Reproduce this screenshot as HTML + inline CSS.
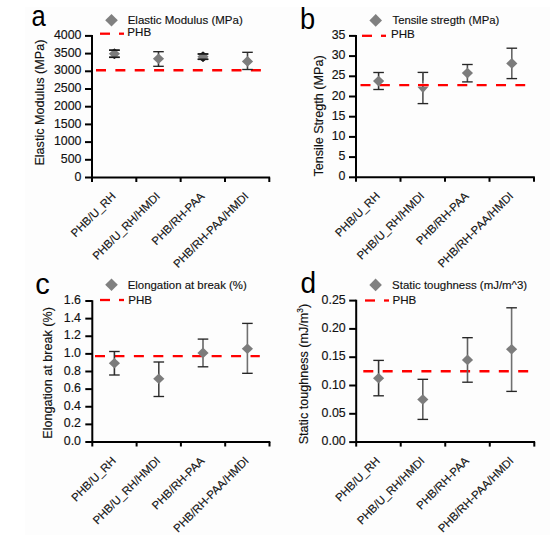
<!DOCTYPE html><html><head><meta charset="utf-8"><style>html,body{margin:0;padding:0;background:#fff;}svg{display:block;font-family:"Liberation Sans",sans-serif;} text{stroke:#111;stroke-width:0.15px;}</style></head><body>
<svg width="550" height="538" viewBox="0 0 550 538">
<rect x="0" y="0" width="550" height="538" fill="#ffffff"/>
<rect x="25" y="7" width="525" height="528" fill="#fdfdfd"/>
<text transform="translate(31.5,26.2) scale(0.88,1)" font-size="29" fill="#000" style="stroke:none">a</text>
<path d="M92.0,35.1 V177.5 H270.1" fill="none" stroke="#000" stroke-width="2"/>
<line x1="85.0" y1="177.50" x2="92.0" y2="177.50" stroke="#000" stroke-width="2"/>
<text x="81.5" y="180.60" font-size="12.4" text-anchor="end" fill="#111">0</text>
<line x1="85.0" y1="159.80" x2="92.0" y2="159.80" stroke="#000" stroke-width="2"/>
<text x="81.5" y="162.90" font-size="12.4" text-anchor="end" fill="#111">500</text>
<line x1="85.0" y1="142.10" x2="92.0" y2="142.10" stroke="#000" stroke-width="2"/>
<text x="81.5" y="145.20" font-size="12.4" text-anchor="end" fill="#111">1000</text>
<line x1="85.0" y1="124.40" x2="92.0" y2="124.40" stroke="#000" stroke-width="2"/>
<text x="81.5" y="127.50" font-size="12.4" text-anchor="end" fill="#111">1500</text>
<line x1="85.0" y1="106.70" x2="92.0" y2="106.70" stroke="#000" stroke-width="2"/>
<text x="81.5" y="109.80" font-size="12.4" text-anchor="end" fill="#111">2000</text>
<line x1="85.0" y1="89.00" x2="92.0" y2="89.00" stroke="#000" stroke-width="2"/>
<text x="81.5" y="92.10" font-size="12.4" text-anchor="end" fill="#111">2500</text>
<line x1="85.0" y1="71.30" x2="92.0" y2="71.30" stroke="#000" stroke-width="2"/>
<text x="81.5" y="74.40" font-size="12.4" text-anchor="end" fill="#111">3000</text>
<line x1="85.0" y1="53.60" x2="92.0" y2="53.60" stroke="#000" stroke-width="2"/>
<text x="81.5" y="56.70" font-size="12.4" text-anchor="end" fill="#111">3500</text>
<line x1="85.0" y1="35.90" x2="92.0" y2="35.90" stroke="#000" stroke-width="2"/>
<text x="81.5" y="39.00" font-size="12.4" text-anchor="end" fill="#111">4000</text>
<line x1="92.00" y1="177.5" x2="92.00" y2="182.0" stroke="#000" stroke-width="2"/>
<line x1="136.32" y1="177.5" x2="136.32" y2="182.0" stroke="#000" stroke-width="2"/>
<line x1="180.65" y1="177.5" x2="180.65" y2="182.0" stroke="#000" stroke-width="2"/>
<line x1="224.98" y1="177.5" x2="224.98" y2="182.0" stroke="#000" stroke-width="2"/>
<line x1="269.30" y1="177.5" x2="269.30" y2="182.0" stroke="#000" stroke-width="2"/>
<text transform="translate(116.36,197.00) rotate(-45)" font-size="11.4" text-anchor="end" fill="#111">PHB/U_RH</text>
<text transform="translate(160.69,197.00) rotate(-45)" font-size="11.4" text-anchor="end" fill="#111">PHB/U_RH/HMDI</text>
<text transform="translate(205.01,197.00) rotate(-45)" font-size="11.4" text-anchor="end" fill="#111">PHB/RH-PAA</text>
<text transform="translate(249.34,197.00) rotate(-45)" font-size="11.4" text-anchor="end" fill="#111">PHB/RH-PAA/HMDI</text>
<text transform="translate(44.0,102.60) rotate(-90)" font-size="12.6" text-anchor="middle" fill="#111">Elastic Modulus (MPa)</text>
<path d="M111.5,13.899999999999999 L117.8,20.2 L111.5,26.5 L105.2,20.2 Z" fill="#808080"/>
<text x="127.7" y="23.9" font-size="11.5" fill="#111">Elastic Modulus (MPa)</text>
<line x1="100" y1="33.7" x2="110" y2="33.7" stroke="#f00" stroke-width="2.3"/>
<line x1="119" y1="33.7" x2="124" y2="33.7" stroke="#f00" stroke-width="2.3"/>
<text x="127.3" y="36.3" font-size="11.6" fill="#111">PHB</text>
<line x1="96.0" y1="70.3" x2="261.0" y2="70.3" stroke="#f00" stroke-width="2.4" stroke-dasharray="10 9.36"/>
<line x1="114.4" y1="50.2" x2="114.4" y2="57.3" stroke="#222" stroke-width="1.6"/>
<line x1="109.10000000000001" y1="50.2" x2="119.7" y2="50.2" stroke="#262626" stroke-width="1.35"/>
<line x1="109.10000000000001" y1="57.3" x2="119.7" y2="57.3" stroke="#262626" stroke-width="1.35"/>
<path d="M114.4,48.400000000000006 L120.0,53.7 L114.4,59.0 L108.80000000000001,53.7 Z" fill="#7c7c7c"/>
<path d="M111.90,50.2 L116.90,50.2 L114.4,48.400000000000006 Z" fill="#1a1a1a"/>
<path d="M112.00,57.3 L116.80,57.3 L114.4,59.0 Z" fill="#1a1a1a"/>
<line x1="109.10000000000001" y1="50.2" x2="119.7" y2="50.2" stroke="#1a1a1a" stroke-width="1.6"/>
<line x1="109.10000000000001" y1="57.3" x2="119.7" y2="57.3" stroke="#1a1a1a" stroke-width="1.6"/>
<line x1="158.5" y1="51.7" x2="158.5" y2="66.3" stroke="#333" stroke-width="1.6"/>
<line x1="153.2" y1="51.7" x2="163.8" y2="51.7" stroke="#262626" stroke-width="1.35"/>
<line x1="153.2" y1="66.3" x2="163.8" y2="66.3" stroke="#262626" stroke-width="1.35"/>
<path d="M158.5,53.400000000000006 L164.1,58.7 L158.5,64.0 L152.9,58.7 Z" fill="#7c7c7c"/>
<line x1="203.0" y1="54.0" x2="203.0" y2="59.3" stroke="#222" stroke-width="1.6"/>
<line x1="197.7" y1="54.0" x2="208.3" y2="54.0" stroke="#262626" stroke-width="1.35"/>
<line x1="197.7" y1="59.3" x2="208.3" y2="59.3" stroke="#262626" stroke-width="1.35"/>
<path d="M203.0,51.400000000000006 L208.6,56.7 L203.0,62.0 L197.4,56.7 Z" fill="#7c7c7c"/>
<path d="M199.65,54.0 L206.35,54.0 L203.0,51.400000000000006 Z" fill="#1a1a1a"/>
<path d="M199.55,59.3 L206.45,59.3 L203.0,62.0 Z" fill="#1a1a1a"/>
<line x1="197.7" y1="54.0" x2="208.3" y2="54.0" stroke="#1a1a1a" stroke-width="1.6"/>
<line x1="197.7" y1="59.3" x2="208.3" y2="59.3" stroke="#1a1a1a" stroke-width="1.6"/>
<line x1="247.5" y1="52.3" x2="247.5" y2="69.5" stroke="#444" stroke-width="1.6"/>
<line x1="242.2" y1="52.3" x2="252.8" y2="52.3" stroke="#262626" stroke-width="1.35"/>
<line x1="242.2" y1="69.5" x2="252.8" y2="69.5" stroke="#262626" stroke-width="1.35"/>
<path d="M247.5,56.1 L253.1,61.4 L247.5,66.7 L241.9,61.4 Z" fill="#7c7c7c"/>
<text transform="translate(300.0,28.8) scale(0.94,1)" font-size="29" fill="#000" style="stroke:none">b</text>
<path d="M356.0,35.1 V177.3 H534.8" fill="none" stroke="#000" stroke-width="2"/>
<line x1="349.0" y1="177.30" x2="356.0" y2="177.30" stroke="#000" stroke-width="2"/>
<text x="345.5" y="180.40" font-size="12.4" text-anchor="end" fill="#111">0</text>
<line x1="349.0" y1="157.10" x2="356.0" y2="157.10" stroke="#000" stroke-width="2"/>
<text x="345.5" y="160.20" font-size="12.4" text-anchor="end" fill="#111">5</text>
<line x1="349.0" y1="136.90" x2="356.0" y2="136.90" stroke="#000" stroke-width="2"/>
<text x="345.5" y="140.00" font-size="12.4" text-anchor="end" fill="#111">10</text>
<line x1="349.0" y1="116.70" x2="356.0" y2="116.70" stroke="#000" stroke-width="2"/>
<text x="345.5" y="119.80" font-size="12.4" text-anchor="end" fill="#111">15</text>
<line x1="349.0" y1="96.50" x2="356.0" y2="96.50" stroke="#000" stroke-width="2"/>
<text x="345.5" y="99.60" font-size="12.4" text-anchor="end" fill="#111">20</text>
<line x1="349.0" y1="76.30" x2="356.0" y2="76.30" stroke="#000" stroke-width="2"/>
<text x="345.5" y="79.40" font-size="12.4" text-anchor="end" fill="#111">25</text>
<line x1="349.0" y1="56.10" x2="356.0" y2="56.10" stroke="#000" stroke-width="2"/>
<text x="345.5" y="59.20" font-size="12.4" text-anchor="end" fill="#111">30</text>
<line x1="349.0" y1="35.90" x2="356.0" y2="35.90" stroke="#000" stroke-width="2"/>
<text x="345.5" y="39.00" font-size="12.4" text-anchor="end" fill="#111">35</text>
<line x1="356.00" y1="177.3" x2="356.00" y2="181.8" stroke="#000" stroke-width="2"/>
<line x1="400.50" y1="177.3" x2="400.50" y2="181.8" stroke="#000" stroke-width="2"/>
<line x1="445.00" y1="177.3" x2="445.00" y2="181.8" stroke="#000" stroke-width="2"/>
<line x1="489.50" y1="177.3" x2="489.50" y2="181.8" stroke="#000" stroke-width="2"/>
<line x1="534.00" y1="177.3" x2="534.00" y2="181.8" stroke="#000" stroke-width="2"/>
<text transform="translate(380.45,196.80) rotate(-45)" font-size="11.4" text-anchor="end" fill="#111">PHB/U_RH</text>
<text transform="translate(424.95,196.80) rotate(-45)" font-size="11.4" text-anchor="end" fill="#111">PHB/U_RH/HMDI</text>
<text transform="translate(469.45,196.80) rotate(-45)" font-size="11.4" text-anchor="end" fill="#111">PHB/RH-PAA</text>
<text transform="translate(513.95,196.80) rotate(-45)" font-size="11.4" text-anchor="end" fill="#111">PHB/RH-PAA/HMDI</text>
<text transform="translate(322.5,115.95) rotate(-90)" font-size="12.6" text-anchor="middle" fill="#111">Tensile Stregth (MPa)</text>
<path d="M375.7,14.099999999999998 L382.0,20.4 L375.7,26.7 L369.4,20.4 Z" fill="#808080"/>
<text x="392.5" y="23.9" font-size="11.3" fill="#111">Tensile stregth (MPa)</text>
<line x1="362" y1="35.8" x2="372" y2="35.8" stroke="#f00" stroke-width="2.3"/>
<line x1="381" y1="35.8" x2="386" y2="35.8" stroke="#f00" stroke-width="2.3"/>
<text x="391.0" y="38.2" font-size="11.6" fill="#111">PHB</text>
<line x1="360.5" y1="85.1" x2="525.2" y2="85.1" stroke="#f00" stroke-width="2.4" stroke-dasharray="10 9.36"/>
<line x1="378.6" y1="72.5" x2="378.6" y2="89.5" stroke="#333" stroke-width="1.6"/>
<line x1="373.3" y1="72.5" x2="383.90000000000003" y2="72.5" stroke="#262626" stroke-width="1.35"/>
<line x1="373.3" y1="89.5" x2="383.90000000000003" y2="89.5" stroke="#262626" stroke-width="1.35"/>
<path d="M378.6,75.8 L384.20000000000005,81.1 L378.6,86.39999999999999 L373.0,81.1 Z" fill="#7c7c7c"/>
<line x1="422.9" y1="72.4" x2="422.9" y2="103.6" stroke="#555" stroke-width="1.6"/>
<line x1="417.59999999999997" y1="72.4" x2="428.2" y2="72.4" stroke="#262626" stroke-width="1.35"/>
<line x1="417.59999999999997" y1="103.6" x2="428.2" y2="103.6" stroke="#262626" stroke-width="1.35"/>
<path d="M417.4,86.8 L428.4,86.8 L422.9,92.9 Z" fill="#7c7c7c"/>
<rect x="417.4" y="80.5" width="11" height="3.6" fill="#fdfdfd"/>
<line x1="422.9" y1="72.4" x2="422.9" y2="83.4" stroke="#555" stroke-width="1.6"/>
<line x1="418.0" y1="85.05" x2="428.4" y2="85.05" stroke="#f00" stroke-width="2.2"/>
<line x1="467.4" y1="64.5" x2="467.4" y2="81.9" stroke="#555" stroke-width="1.6"/>
<line x1="462.09999999999997" y1="64.5" x2="472.7" y2="64.5" stroke="#262626" stroke-width="1.35"/>
<line x1="462.09999999999997" y1="81.9" x2="472.7" y2="81.9" stroke="#262626" stroke-width="1.35"/>
<path d="M467.4,67.8 L473.0,73.1 L467.4,78.39999999999999 L461.79999999999995,73.1 Z" fill="#7c7c7c"/>
<line x1="511.8" y1="48.2" x2="511.8" y2="78.6" stroke="#666" stroke-width="1.6"/>
<line x1="506.5" y1="48.2" x2="517.1" y2="48.2" stroke="#262626" stroke-width="1.35"/>
<line x1="506.5" y1="78.6" x2="517.1" y2="78.6" stroke="#262626" stroke-width="1.35"/>
<path d="M511.8,58.1 L517.4,63.4 L511.8,68.7 L506.2,63.4 Z" fill="#7c7c7c"/>
<text transform="translate(35.3,294.2) scale(1.0,1)" font-size="29" fill="#000" style="stroke:none">c</text>
<path d="M92.3,300.2 V442.0 H270.3" fill="none" stroke="#000" stroke-width="2"/>
<line x1="85.3" y1="442.00" x2="92.3" y2="442.00" stroke="#000" stroke-width="2"/>
<text x="81.0" y="445.10" font-size="12.4" text-anchor="end" fill="#111">0.0</text>
<line x1="85.3" y1="424.38" x2="92.3" y2="424.38" stroke="#000" stroke-width="2"/>
<text x="81.0" y="427.48" font-size="12.4" text-anchor="end" fill="#111">0.2</text>
<line x1="85.3" y1="406.75" x2="92.3" y2="406.75" stroke="#000" stroke-width="2"/>
<text x="81.0" y="409.85" font-size="12.4" text-anchor="end" fill="#111">0.4</text>
<line x1="85.3" y1="389.12" x2="92.3" y2="389.12" stroke="#000" stroke-width="2"/>
<text x="81.0" y="392.23" font-size="12.4" text-anchor="end" fill="#111">0.6</text>
<line x1="85.3" y1="371.50" x2="92.3" y2="371.50" stroke="#000" stroke-width="2"/>
<text x="81.0" y="374.60" font-size="12.4" text-anchor="end" fill="#111">0.8</text>
<line x1="85.3" y1="353.88" x2="92.3" y2="353.88" stroke="#000" stroke-width="2"/>
<text x="81.0" y="356.98" font-size="12.4" text-anchor="end" fill="#111">1.0</text>
<line x1="85.3" y1="336.25" x2="92.3" y2="336.25" stroke="#000" stroke-width="2"/>
<text x="81.0" y="339.35" font-size="12.4" text-anchor="end" fill="#111">1.2</text>
<line x1="85.3" y1="318.62" x2="92.3" y2="318.62" stroke="#000" stroke-width="2"/>
<text x="81.0" y="321.73" font-size="12.4" text-anchor="end" fill="#111">1.4</text>
<line x1="85.3" y1="301.00" x2="92.3" y2="301.00" stroke="#000" stroke-width="2"/>
<text x="81.0" y="304.10" font-size="12.4" text-anchor="end" fill="#111">1.6</text>
<line x1="92.30" y1="442.0" x2="92.30" y2="446.5" stroke="#000" stroke-width="2"/>
<line x1="136.60" y1="442.0" x2="136.60" y2="446.5" stroke="#000" stroke-width="2"/>
<line x1="180.90" y1="442.0" x2="180.90" y2="446.5" stroke="#000" stroke-width="2"/>
<line x1="225.20" y1="442.0" x2="225.20" y2="446.5" stroke="#000" stroke-width="2"/>
<line x1="269.50" y1="442.0" x2="269.50" y2="446.5" stroke="#000" stroke-width="2"/>
<text transform="translate(116.65,461.50) rotate(-45)" font-size="11.4" text-anchor="end" fill="#111">PHB/U_RH</text>
<text transform="translate(160.95,461.50) rotate(-45)" font-size="11.4" text-anchor="end" fill="#111">PHB/U_RH/HMDI</text>
<text transform="translate(205.25,461.50) rotate(-45)" font-size="11.4" text-anchor="end" fill="#111">PHB/RH-PAA</text>
<text transform="translate(249.55,461.50) rotate(-45)" font-size="11.4" text-anchor="end" fill="#111">PHB/RH-PAA/HMDI</text>
<text transform="translate(52.0,372.95) rotate(-90)" font-size="12.6" text-anchor="middle" fill="#111">Elongation at break (%)</text>
<path d="M111.5,278.5 L117.8,284.8 L111.5,291.1 L105.2,284.8 Z" fill="#808080"/>
<text x="127.7" y="288.8" font-size="11.4" fill="#111">Elongation at break (%)</text>
<line x1="100" y1="300.0" x2="110" y2="300.0" stroke="#f00" stroke-width="2.3"/>
<line x1="119" y1="300.0" x2="124" y2="300.0" stroke="#f00" stroke-width="2.3"/>
<text x="128.2" y="304.1" font-size="11.6" fill="#111">PHB</text>
<line x1="95.0" y1="356.1" x2="259.8" y2="356.1" stroke="#f00" stroke-width="2.4" stroke-dasharray="10 9.44"/>
<line x1="114.4" y1="351.5" x2="114.4" y2="375.0" stroke="#333" stroke-width="1.6"/>
<line x1="109.10000000000001" y1="351.5" x2="119.7" y2="351.5" stroke="#262626" stroke-width="1.35"/>
<line x1="109.10000000000001" y1="375.0" x2="119.7" y2="375.0" stroke="#262626" stroke-width="1.35"/>
<path d="M114.4,358.0 L120.0,363.3 L114.4,368.6 L108.80000000000001,363.3 Z" fill="#7c7c7c"/>
<line x1="158.8" y1="362.0" x2="158.8" y2="396.5" stroke="#444" stroke-width="1.6"/>
<line x1="153.5" y1="362.0" x2="164.10000000000002" y2="362.0" stroke="#262626" stroke-width="1.35"/>
<line x1="153.5" y1="396.5" x2="164.10000000000002" y2="396.5" stroke="#262626" stroke-width="1.35"/>
<path d="M158.8,373.5 L164.4,378.8 L158.8,384.1 L153.20000000000002,378.8 Z" fill="#7c7c7c"/>
<line x1="203.0" y1="339.1" x2="203.0" y2="366.8" stroke="#666" stroke-width="1.6"/>
<line x1="197.7" y1="339.1" x2="208.3" y2="339.1" stroke="#262626" stroke-width="1.35"/>
<line x1="197.7" y1="366.8" x2="208.3" y2="366.8" stroke="#262626" stroke-width="1.35"/>
<path d="M203.0,347.59999999999997 L208.6,352.9 L203.0,358.2 L197.4,352.9 Z" fill="#7c7c7c"/>
<line x1="247.4" y1="323.4" x2="247.4" y2="373.3" stroke="#707070" stroke-width="1.6"/>
<line x1="242.1" y1="323.4" x2="252.70000000000002" y2="323.4" stroke="#262626" stroke-width="1.35"/>
<line x1="242.1" y1="373.3" x2="252.70000000000002" y2="373.3" stroke="#262626" stroke-width="1.35"/>
<path d="M247.4,343.5 L253.0,348.8 L247.4,354.1 L241.8,348.8 Z" fill="#7c7c7c"/>
<text transform="translate(300.5,293.3) scale(0.97,1)" font-size="29" fill="#000" style="stroke:none">d</text>
<path d="M356.2,299.8 V442.1 H535.0999999999999" fill="none" stroke="#000" stroke-width="2"/>
<line x1="349.2" y1="442.10" x2="356.2" y2="442.10" stroke="#000" stroke-width="2"/>
<text x="345.7" y="445.20" font-size="12.4" text-anchor="end" fill="#111">0.00</text>
<line x1="349.2" y1="413.80" x2="356.2" y2="413.80" stroke="#000" stroke-width="2"/>
<text x="345.7" y="416.90" font-size="12.4" text-anchor="end" fill="#111">0.05</text>
<line x1="349.2" y1="385.50" x2="356.2" y2="385.50" stroke="#000" stroke-width="2"/>
<text x="345.7" y="388.60" font-size="12.4" text-anchor="end" fill="#111">0.10</text>
<line x1="349.2" y1="357.20" x2="356.2" y2="357.20" stroke="#000" stroke-width="2"/>
<text x="345.7" y="360.30" font-size="12.4" text-anchor="end" fill="#111">0.15</text>
<line x1="349.2" y1="328.90" x2="356.2" y2="328.90" stroke="#000" stroke-width="2"/>
<text x="345.7" y="332.00" font-size="12.4" text-anchor="end" fill="#111">0.20</text>
<line x1="349.2" y1="300.60" x2="356.2" y2="300.60" stroke="#000" stroke-width="2"/>
<text x="345.7" y="303.70" font-size="12.4" text-anchor="end" fill="#111">0.25</text>
<line x1="356.20" y1="442.1" x2="356.20" y2="446.6" stroke="#000" stroke-width="2"/>
<line x1="400.72" y1="442.1" x2="400.72" y2="446.6" stroke="#000" stroke-width="2"/>
<line x1="445.25" y1="442.1" x2="445.25" y2="446.6" stroke="#000" stroke-width="2"/>
<line x1="489.77" y1="442.1" x2="489.77" y2="446.6" stroke="#000" stroke-width="2"/>
<line x1="534.30" y1="442.1" x2="534.30" y2="446.6" stroke="#000" stroke-width="2"/>
<text transform="translate(380.66,461.60) rotate(-45)" font-size="11.4" text-anchor="end" fill="#111">PHB/U_RH</text>
<text transform="translate(425.19,461.60) rotate(-45)" font-size="11.4" text-anchor="end" fill="#111">PHB/U_RH/HMDI</text>
<text transform="translate(469.71,461.60) rotate(-45)" font-size="11.4" text-anchor="end" fill="#111">PHB/RH-PAA</text>
<text transform="translate(514.24,461.60) rotate(-45)" font-size="11.4" text-anchor="end" fill="#111">PHB/RH-PAA/HMDI</text>
<text transform="translate(308.2,374.10) rotate(-90)" font-size="12.6" text-anchor="middle" fill="#111">Static toughness (mJ/m<tspan dy="-5.2" font-size="8.3">3</tspan><tspan dy="5.2">)</tspan></text>
<path d="M375.6,278.59999999999997 L381.90000000000003,284.9 L375.6,291.2 L369.3,284.9 Z" fill="#808080"/>
<text x="392.1" y="288.9" font-size="11.45" fill="#111">Static toughness (mJ/m^3)</text>
<line x1="365" y1="300.5" x2="375" y2="300.5" stroke="#f00" stroke-width="2.3"/>
<line x1="384" y1="300.5" x2="389" y2="300.5" stroke="#f00" stroke-width="2.3"/>
<text x="392.5" y="304.2" font-size="11.6" fill="#111">PHB</text>
<line x1="363.3" y1="371.2" x2="528.3" y2="371.2" stroke="#f00" stroke-width="2.4" stroke-dasharray="10 9.36"/>
<line x1="378.6" y1="360.4" x2="378.6" y2="395.8" stroke="#333" stroke-width="1.6"/>
<line x1="373.3" y1="360.4" x2="383.90000000000003" y2="360.4" stroke="#262626" stroke-width="1.35"/>
<line x1="373.3" y1="395.8" x2="383.90000000000003" y2="395.8" stroke="#262626" stroke-width="1.35"/>
<path d="M378.6,372.9 L384.20000000000005,378.2 L378.6,383.5 L373.0,378.2 Z" fill="#7c7c7c"/>
<line x1="422.8" y1="379.3" x2="422.8" y2="419.4" stroke="#606060" stroke-width="1.6"/>
<line x1="417.5" y1="379.3" x2="428.1" y2="379.3" stroke="#262626" stroke-width="1.35"/>
<line x1="417.5" y1="419.4" x2="428.1" y2="419.4" stroke="#262626" stroke-width="1.35"/>
<path d="M422.8,394.2 L428.40000000000003,399.5 L422.8,404.8 L417.2,399.5 Z" fill="#7c7c7c"/>
<line x1="467.5" y1="337.7" x2="467.5" y2="382.2" stroke="#606060" stroke-width="1.6"/>
<line x1="462.2" y1="337.7" x2="472.8" y2="337.7" stroke="#262626" stroke-width="1.35"/>
<line x1="462.2" y1="382.2" x2="472.8" y2="382.2" stroke="#262626" stroke-width="1.35"/>
<path d="M467.5,354.59999999999997 L473.1,359.9 L467.5,365.2 L461.9,359.9 Z" fill="#7c7c7c"/>
<line x1="511.6" y1="307.8" x2="511.6" y2="391.4" stroke="#707070" stroke-width="1.6"/>
<line x1="506.3" y1="307.8" x2="516.9" y2="307.8" stroke="#262626" stroke-width="1.35"/>
<line x1="506.3" y1="391.4" x2="516.9" y2="391.4" stroke="#262626" stroke-width="1.35"/>
<path d="M511.6,344.0 L517.2,349.3 L511.6,354.6 L506.0,349.3 Z" fill="#7c7c7c"/>
</svg></body></html>
